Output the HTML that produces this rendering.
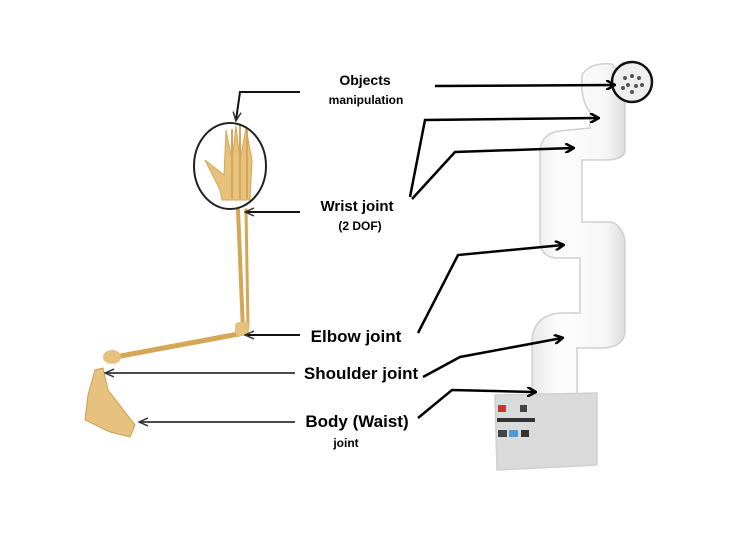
<!DOCTYPE html>
<html><head><style>
body{margin:0;background:#fff;width:748px;height:529px;overflow:hidden;font-family:"Liberation Sans",sans-serif}
</style></head><body>
<svg width="748" height="529" viewBox="0 0 748 529" xmlns="http://www.w3.org/2000/svg">
<defs>
<marker id="a" markerWidth="10" markerHeight="10" refX="8" refY="5" orient="auto" markerUnits="userSpaceOnUse"><path d="M0,0 L9,5 L0,10" fill="none" stroke="#000" stroke-width="2.5"/></marker>
<marker id="b" markerWidth="10" markerHeight="10" refX="8" refY="5" orient="auto" markerUnits="userSpaceOnUse"><path d="M0,1 L9,5 L0,9" fill="none" stroke="#333" stroke-width="1.5"/></marker>
<linearGradient id="g" x1="0" x2="1"><stop offset="0" stop-color="#e8e8e8"/><stop offset="0.3" stop-color="#fdfdfd"/><stop offset="0.8" stop-color="#f6f6f6"/><stop offset="1" stop-color="#dcdcdc"/></linearGradient>
</defs>
<!-- skeleton -->
<g stroke="#d4a656" fill="#e6c27e" stroke-linecap="round">
<line x1="238" y1="210" x2="243" y2="330" stroke-width="4"/>
<line x1="246" y1="210" x2="248" y2="328" stroke-width="3"/>
<line x1="244" y1="333" x2="110" y2="358" stroke-width="5"/>
<ellipse cx="112" cy="357" rx="9" ry="7" stroke="none"/>
<rect x="235" y="322" width="14" height="14" rx="4" stroke="none"/>
<path d="M95,370 L103,368 L108,390 L135,425 L130,437 L110,432 L85,420 L88,395 Z" stroke="#c9a050" stroke-width="1"/>
<path d="M222,200 L250,200 L252,160 L246,128 L240,160 L236,126 L232,160 L226,130 L224,175 L205,160 L220,190 Z" stroke-width="1"/>
<line x1="232" y1="198" x2="232" y2="130" stroke-width="2"/>
<line x1="240" y1="198" x2="240" y2="125" stroke-width="2"/>
<line x1="247" y1="198" x2="247" y2="130" stroke-width="2"/>
</g>
<ellipse cx="230" cy="166" rx="36" ry="43" fill="none" stroke="#222" stroke-width="2"/>
<!-- robot -->
<g fill="url(#g)" stroke="#d0d0d0" stroke-width="1.5">
<path d="M582,75 Q590,62 612,64 L625,80 L625,150 Q625,160 605,160 L582,160 L582,222 L612,222 Q625,228 625,245 L625,330 Q625,348 600,348 L577,348 L577,395 L532,395 L532,338 Q535,315 560,313 L580,313 L580,258 L555,258 Q540,256 540,240 L540,150 Q542,133 560,131 L590,128 L590,112 Q580,100 582,75 Z"/>
<path d="M495,395 L597,393 L597,465 L497,470 Z" fill="#dadada"/>
</g>
<rect x="498" y="405" width="8" height="7" fill="#c33"/>
<rect x="520" y="405" width="7" height="7" fill="#444"/>
<rect x="497" y="418" width="38" height="4" fill="#333"/>
<rect x="498" y="430" width="9" height="7" fill="#444"/><rect x="509" y="430" width="9" height="7" fill="#4a9ad8"/><rect x="521" y="430" width="8" height="7" fill="#333"/>
<circle cx="632" cy="82" r="20" fill="#eee" stroke="#111" stroke-width="2.5"/>
<g fill="#555"><circle cx="625" cy="78" r="2"/><circle cx="632" cy="76" r="2"/><circle cx="639" cy="78" r="2"/><circle cx="628" cy="85" r="2"/><circle cx="636" cy="86" r="2"/><circle cx="632" cy="92" r="2"/><circle cx="642" cy="85" r="2"/><circle cx="623" cy="88" r="2"/></g>
<!-- arrows right -->
<g fill="none" stroke="#000" stroke-width="2.5" marker-end="url(#a)">
<line x1="435" y1="86" x2="614" y2="85"/>
<polyline points="410,197 425,120 598,118"/>
<polyline points="412,199 455,152 573,148"/>
<polyline points="418,333 458,255 563,245"/>
<polyline points="423,377 460,357 562,338"/>
<polyline points="418,418 452,390 535,392"/>
</g>
<g fill="none" stroke="#111" stroke-width="2" marker-end="url(#b)">
<polyline points="300,92 240,92 236,120"/>
<line x1="300" y1="212" x2="246" y2="212"/>
<line x1="300" y1="335" x2="246" y2="335"/>
</g>
<g fill="none" stroke="#333" stroke-width="1.8" marker-end="url(#b)">
<line x1="295" y1="373" x2="106" y2="373"/>
<line x1="295" y1="422" x2="140" y2="422"/>
</g>
<g font-weight="bold" fill="#000" text-anchor="middle">
<text x="365" y="85" font-size="14">Objects</text>
<text x="366" y="104" font-size="12">manipulation</text>
<text x="357" y="211" font-size="15">Wrist joint</text>
<text x="360" y="230" font-size="12">(2 DOF)</text>
<text x="356" y="342" font-size="17">Elbow joint</text>
<text x="361" y="379" font-size="17">Shoulder joint</text>
<text x="357" y="427" font-size="17">Body (Waist)</text>
<text x="346" y="447" font-size="12">joint</text>
</g>
</svg>
</body></html>
